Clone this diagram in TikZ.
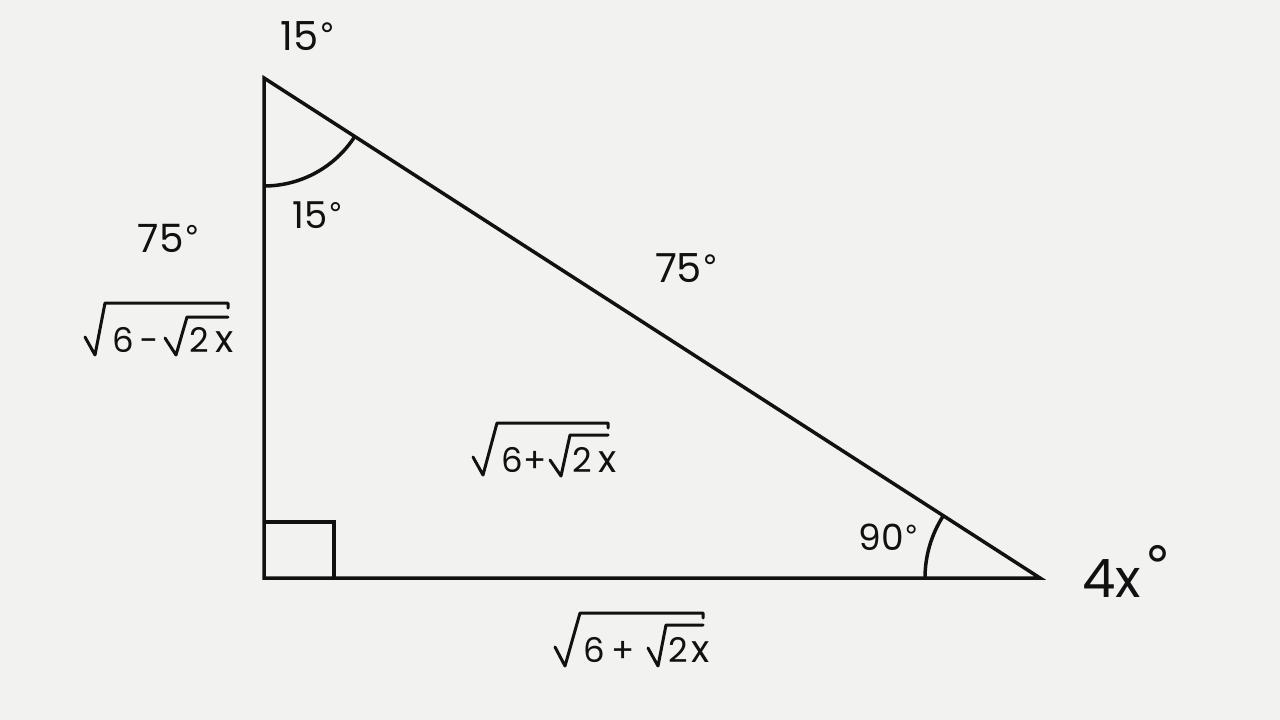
\documentclass[tikz,border=0pt]{standalone}
\usepackage{fontspec}
\usepackage{graphicx}
\setmainfont{Poppins}
\newfontfamily\dejavu{DejaVu Sans}
\definecolor{bg}{RGB}{242,242,240}
\definecolor{ink}{RGB}{17,17,17}
\newcommand{\fs}[1]{\fontsize{#1}{#1}\selectfont}
\newcommand{\dg}{\kern0.02em\raisebox{0.09em}{\scalebox{0.8}{\dejavu °}}}
\begin{document}
\begin{tikzpicture}[x=1pt,y=-1pt,
  edge/.style={draw=ink,line width=3.5pt,line join=miter},
  radl/.style={draw=ink,line width=3pt,line join=round,line cap=round},
  lbl/.style={inner sep=0pt,text=ink,anchor=base},
  ]
\fill[bg] (0,0) rectangle (1280,720);
\useasboundingbox (0,0) rectangle (1280,720);
\coordinate (T) at (264,78);
\coordinate (L) at (264,578);
\coordinate (R) at (1040,578);
% right angle box
\draw[edge] (264,522) -- (334,522) -- (334,578);
% angle arcs
\draw[edge] (264,186) arc[start angle=90,end angle=32.8,radius=108];
\draw[edge] (925,578) arc[start angle=180,end angle=212.8,radius=115];
% triangle
\draw[edge] (T) -- (L) -- (R) -- cycle;
% angle labels
\node[lbl,font=\fs{40}] (a1) at (308,50) {15\dg};
\node[lbl,font=\fs{37}] (a2) at (318,228) {15\dg};
\node[lbl,font=\fs{39}] (a3) at (169,252) {75\dg};
\node[lbl,font=\fs{40}] (a4) at (687,282) {75\dg};
\node[lbl,font=\fs{36}] (a5) at (889,550) {90\dg};
\node[lbl,font=\fs{53}] (a6) at (1112,597) {4x};
\node[lbl,font=\fs{54}\dejavu] (a7) at (1158,585) {°};
% expressions
\begin{scope}[every node/.style={lbl,font=\fs{34}}]
\node (l6) at (123.5,352) {6};
\node (lm) at (149,352) {−};
\node (l2) at (199,352) {2};
\node[font=\fs{38}] (lx) at (225,352) {x};
\node (c6) at (512,472) {6};
\node (cp) at (535.5,472) {+};
\node (c2) at (582.5,472) {2};
\node[font=\fs{38}] (cx) at (608,472) {x};
\node (b6) at (594.5,662) {6};
\node (bp) at (623.5,662) {+};
\node (b2) at (678,662) {2};
\node[font=\fs{38}] (bx) at (701,662) {x};
\end{scope}
% radicals
\draw[radl] (85,337) -- (95,355) -- (105,303) -- (228,303) -- (228,308);
\draw[radl] (165,338) -- (176,355) -- (187,317) -- (228,317);
\draw[radl] (473,457) -- (483,475) -- (497,423) -- (608,423) -- (608,428);
\draw[radl] (550,460) -- (561,476) -- (570,435) -- (608,435);
\draw[radl] (555,647) -- (565,666) -- (580,613) -- (703,613) -- (703,618);
\draw[radl] (648,648) -- (658,666) -- (666,625) -- (703,625);
\end{tikzpicture}
\end{document}
